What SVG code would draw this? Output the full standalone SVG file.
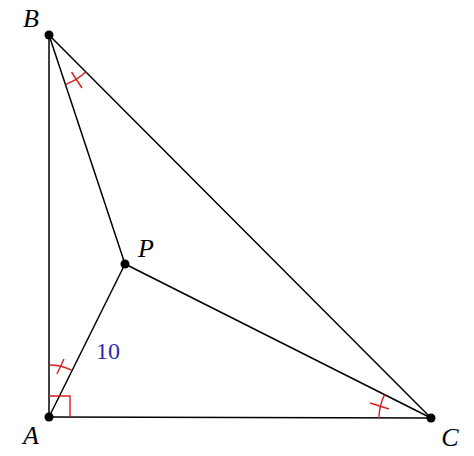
<svg xmlns="http://www.w3.org/2000/svg" width="474" height="456" viewBox="0 0 474 456">
<style>
.ln{stroke:#000;stroke-width:1.5;fill:none}
.mk{stroke:#d42020;stroke-width:1.4;fill:none}
.pt{fill:#000}
.lb{font-family:"Liberation Serif",serif;font-style:italic;font-size:26px;fill:#000;text-anchor:middle}
.num{font-family:"Liberation Serif",serif;font-size:24px;fill:#2a2ab4;text-anchor:middle}
</style>
<rect width="474" height="456" fill="#fff"/>
<g id="connectors">
<line class="ln" x1="49" y1="35" x2="49" y2="417"/>
<line class="ln" x1="49" y1="417" x2="431" y2="418"/>
<line class="ln" x1="49" y1="35" x2="431" y2="418"/>
<line class="ln" x1="125" y1="264" x2="49" y2="35"/>
<line class="ln" x1="125" y1="264" x2="49" y2="417"/>
<line class="ln" x1="125" y1="264" x2="431" y2="418"/>
</g>
<g id="marks">
<path class="mk" d="M49,396 H70 V417"/>
<path class="mk" d="M49,365 A52,52 0 0 1 72.1,370.4"/>
<line class="mk" x1="57" y1="374" x2="64" y2="359"/>
<path class="mk" d="M85.8,71.8 A52,52 0 0 1 65.4,84.3"/>
<line class="mk" x1="71.5" y1="72" x2="82" y2="88"/>
<path class="mk" d="M379,418 A52,52 0 0 1 384.6,394.6"/>
<line class="mk" x1="389" y1="409" x2="370" y2="403"/>
</g>
<g id="A"><circle class="pt" cx="49" cy="417" r="4.5"/><text class="lb" x="31" y="444">A</text></g>
<g id="B"><circle class="pt" cx="49" cy="35" r="4.5"/><text class="lb" x="31" y="27">B</text></g>
<g id="C"><circle class="pt" cx="431" cy="418" r="4.5"/><text class="lb" x="450" y="446">C</text></g>
<g id="P"><circle class="pt" cx="125" cy="264" r="4.5"/><text class="lb" x="146" y="257">P</text></g>
<g id="label10"><text class="num" x="108" y="359">10</text></g>
</svg>
